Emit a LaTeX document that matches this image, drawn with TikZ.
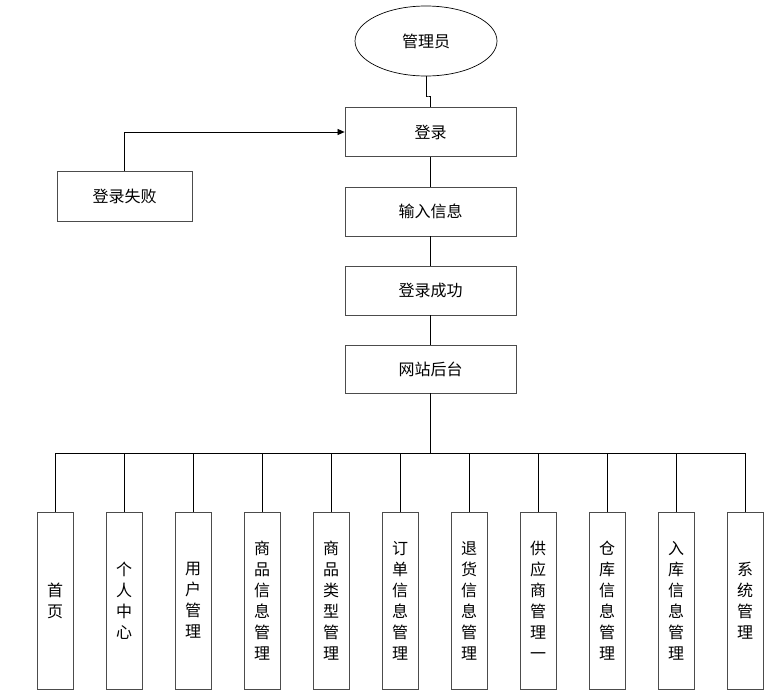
\documentclass[tikz,border=0pt]{standalone}
\usepackage{fontspec}
\setmainfont{Noto Sans CJK SC}
\usetikzlibrary{arrows.meta,shapes.geometric}
\begin{document}
\begin{tikzpicture}[x=1pt,y=-1pt,
  box/.style={draw=black!70,line width=0.8pt,fill=white,minimum width=171pt,minimum height=49pt,font=\fontsize{16}{18}\selectfont,inner sep=0pt},
  vbox/.style={draw=black!70,line width=0.8pt,fill=white,minimum width=36pt,minimum height=177pt,font=\fontsize{16}{21}\selectfont,align=center,inner sep=0pt},
  ln/.style={line width=0.7pt,black}]
\useasboundingbox (0,0) rectangle (779,691);
\node[draw,ellipse,line width=0.7pt,minimum width=142pt,minimum height=70pt,font=\fontsize{16}{18}\selectfont] (adm) at (426,41) {管理员};
\node[box] (login) at (430.5,132) {登录};
\node[box,minimum width=135pt,minimum height=50pt] (fail) at (124.5,196) {登录失败};
\node[box] (input) at (430.5,211.5) {输入信息};
\node[box] (ok) at (430.5,290.5) {登录成功};
\node[box,minimum height=48pt] (web) at (430.5,369) {网站后台};
\draw[ln] (adm.south) |- (428,96) -| (login.north);
\draw[ln,-{Triangle[length=7pt,width=6pt]}] (fail.north) |- (login.west);
\draw[ln] (login) -- (input);
\draw[ln] (input) -- (ok);
\draw[ln] (ok) -- (web);
\coordinate (bus) at (430.5,453);
\draw[ln] (web.south) -- (bus);
\draw[ln] (55,453) -- (745,453);
\foreach \i/\t in {0/首\\页,1/个\\人\\中\\心,2/用\\户\\管\\理,3/商\\品\\信\\息\\管\\理,4/商\\品\\类\\型\\管\\理,5/订\\单\\信\\息\\管\\理,6/退\\货\\信\\息\\管\\理,7/供\\应\\商\\管\\理\\一,8/仓\\库\\信\\息\\管\\理,9/入\\库\\信\\息\\管\\理,10/系\\统\\管\\理}{
  \node[vbox] (b\i) at (55+69*\i,600.5) {\t};
  \draw[ln] (55+69*\i,453) -- (b\i.north);
}
\end{tikzpicture}
\end{document}
